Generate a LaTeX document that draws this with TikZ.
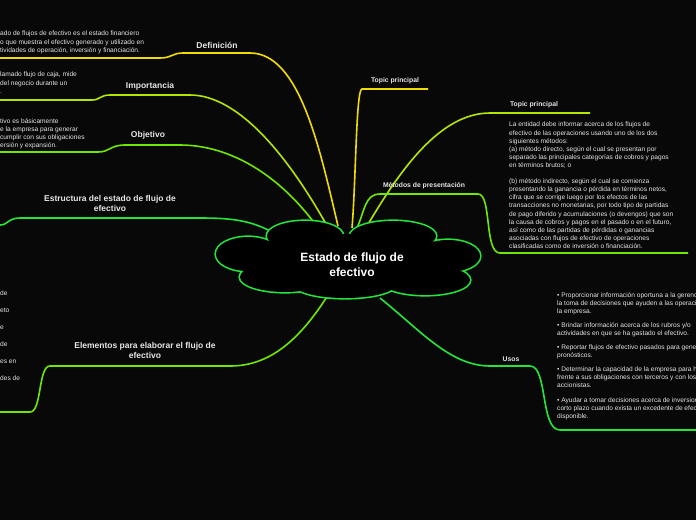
\documentclass[tikz,border=0pt]{standalone}
\usepackage{fontspec}
\setmainfont{Liberation Sans}
\definecolor{cy}{HTML}{F2DC00}
\definecolor{cl}{HTML}{B4E600}
\definecolor{cg}{HTML}{6EE800}
\definecolor{cb}{HTML}{22E63A}
\definecolor{tx}{HTML}{E6E6E6}
\tikzset{
 br/.style={line width=1.6pt},
 lab/.style={font=\fontsize{8.5}{10}\selectfont\bfseries, text=tx, inner sep=0},
 slab/.style={font=\fontsize{6.8}{8}\selectfont\bfseries, text=tx, inner sep=0},
 body/.style={font=\fontsize{6.6}{8.1}\selectfont, text=tx, align=left, inner sep=0, anchor=north west},
}
\newcommand\cloudlobes{%
 (248,254) ellipse [x radius=32,y radius=17]
 (305,236) ellipse [x radius=38,y radius=15]
 (393,236) ellipse [x radius=43,y radius=15]
 (448,256) ellipse [x radius=32,y radius=16]
 (425,280) ellipse [x radius=45,y radius=15]
 (345,285) ellipse [x radius=50,y radius=13]
 (285,277) ellipse [x radius=45,y radius=15]}
\begin{document}
\begin{tikzpicture}[x=1pt,y=-1pt]
\fill[black!97!white] (0,0) rectangle (696,520);
\useasboundingbox (0,0) rectangle (696,520);
\begin{scope}
\clip (0,0) rectangle (696,520);
% Definicion
\node[lab] (def) at (217,45) {Definición};
\draw[br,cy] (338,226) .. controls (320,150) and (300,53) .. (250,53) -- (183,53) .. controls (172,53) and (172,58) .. (160,58) -- (0,58);
\node[body] (tdef) at (0,31) {ado de flujos de efectivo es el estado financiero\\o que muestra el efectivo generado y utilizado en\\tividades de operación, inversión y financiación.};
% Importancia
\node[lab] (imp) at (150,86) {Importancia};
\draw[br,cl] (326,224) .. controls (290,160) and (240,95) .. (190,95) -- (110,95) .. controls (100,95) and (100,100) .. (92,100) -- (0,100);
\node[body] (timp) at (0,72) {lamado flujo de caja, mide\\del negocio durante un\\.};
% Objetivo
\node[lab] (obj) at (148,135) {Objetivo};
\draw[br,cg] (318,228) .. controls (280,175) and (230,145) .. (180,145) -- (125,145) .. controls (110,145) and (110,152) .. (98,152) -- (0,152);
\node[body] (tobj) at (0,118) {tivo es básicamente\\e la empresa para generar\\ cumplir con sus obligaciones\\ersión y expansión.};
% Topic principal 1
\node[slab] (tp1) at (395,81) {Topic principal};
\draw[br,cy] (352,228) .. controls (356,180) and (356,89) .. (362,89) -- (428,89);
% Topic principal 2
\node[slab] (tp2) at (534,105) {Topic principal};
\draw[br,cl] (367,226) .. controls (400,170) and (440,113) .. (490,113) -- (590,113);
% Metodos
\node[slab] (met) at (424,186) {Métodos de presentación};
\draw[br,cg] (357,228) .. controls (365,210) and (365,194) .. (380,194) -- (478,194) .. controls (492,194) and (484,253) .. (500,253) -- (688,253);
\node[body] (tmet) at (509,122) {La entidad debe informar acerca de los flujos de\\efectivo de las operaciones usando uno de los dos\\siguientes métodos:\\(a) método directo, según el cual se presentan por\\separado las principales categorías de cobros y pagos\\en términos brutos; o\\[8.1pt](b) método indirecto, según el cual se comienza\\presentando la ganancia o pérdida en términos netos,\\cifra que se corrige luego por los efectos de las\\transacciones no monetarias, por todo tipo de partidas\\de pago diferido y acumulaciones (o devengos) que son\\la causa de cobros y pagos en el pasado o en el futuro,\\así como de las partidas de pérdidas o ganancias\\asociadas con flujos de efectivo de operaciones\\clasificadas como de inversión o financiación.};
% Estructura
\node[lab, align=center] (est) at (110,203) {Estructura del estado de flujo de\\efectivo};
\draw[br,cb] (272,232) .. controls (250,220) and (230,218) .. (200,218) -- (20,218) .. controls (8,218) and (8,225) .. (0,225);
% Elementos
\node[lab, align=center] (ele) at (145,350) {Elementos para elaborar el flujo de\\efectivo};
\draw[br,cg] (330,292) .. controls (300,340) and (270,366) .. (230,366) -- (50,366) .. controls (38,366) and (42,412) .. (30,412) -- (0,412);
\node[body, font=\fontsize{6.6}{16.9}\selectfont] (tele) at (0,291) {de\\eto\\e\\de\\es en\\des de};
% Usos
\node[slab] (uso) at (511,359) {Usos};
\draw[br,cb] (380,298) .. controls (420,330) and (450,366) .. (490,366) -- (530,366) .. controls (548,366) and (540,430) .. (560,430) -- (696,430);
\node[body] (tuso) at (557,292) {• Proporcionar información oportuna a la gerencia para\\la toma de decisiones que ayuden a las operaciones de\\la empresa.\\[6pt]• Brindar información acerca de los rubros y/o\\actividades en que se ha gastado el efectivo.\\[6pt]• Reportar flujos de efectivo pasados para generar\\pronósticos.\\[6pt]• Determinar la capacidad de la empresa para hacer\\frente a sus obligaciones con terceros y con los\\accionistas.\\[6pt]• Ayudar a tomar decisiones acerca de inversiones a\\corto plazo cuando exista un excedente de efectivo\\disponible.};
% central cloud
\draw[cb, line width=3.2pt] \cloudlobes;
\fill[black] \cloudlobes (348,260) ellipse [x radius=110,y radius=26];
\node[text=white, font=\fontsize{12}{15}\selectfont\bfseries, align=center] (c) at (352,265) {Estado de flujo de\\efectivo};
\end{scope}
\end{tikzpicture}
\end{document}
